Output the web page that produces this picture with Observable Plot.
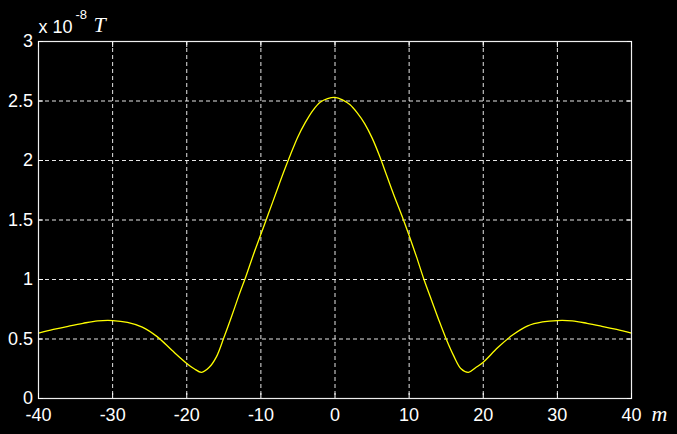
<!DOCTYPE html>
<html><head><meta charset="utf-8">
<script src="https://cdn.jsdelivr.net/npm/d3@7"></script>
<script src="https://cdn.jsdelivr.net/npm/@observablehq/plot@0.6"></script>
<style>html,body{margin:0;padding:0;background:#000;}</style>
</head><body><div id="chart"></div>
<script>
const positions = [-40,-38,-36,-34,-32,-30,-28,-26,-24,-22,-20,-19,-18,-17,-16,-15,-14,-13,-12,-11,-10,-9,-8,-7,-6,-5,-4,-3,-2,-1,0,1,2,3,4,5,6,7,8,9,10,11,12,13,14,15,16,17,18,19,20,22,24,26,28,30,32,34,36,38,40];
const field = [0.55,0.58,0.607,0.632,0.652,0.655,0.64,0.60,0.52,0.405,0.295,0.25,0.22,0.26,0.35,0.51,0.68,0.86,1.03,1.21,1.38,1.55,1.72,1.89,2.05,2.20,2.32,2.42,2.49,2.52,2.53,2.51,2.47,2.40,2.31,2.19,2.04,1.87,1.70,1.54,1.37,1.19,1.00,0.83,0.66,0.50,0.36,0.25,0.22,0.26,0.305,0.43,0.535,0.61,0.643,0.655,0.652,0.632,0.607,0.58,0.55];
const xTicks = [-40,-30,-20,-10,0,10,20,30,40];
const yTicks = [0,0.5,1,1.5,2,2.5,3];
const yUnitBase = "x 10";
const yUnitExp = "-8";
const yUnit = "T";
const xUnit = "m";

const data = positions.map((x, i) => ({x, y: field[i]}));
const fnt = "Arial, 'Liberation Sans', sans-serif";
const serif = "'Times New Roman', 'Liberation Serif', serif";

const chart = Plot.plot({
  width: 677,
  height: 434,
  marginLeft: 38,
  marginRight: 46,
  marginTop: 41,
  marginBottom: 36,
  style: {background: "#000", color: "#fff", fontFamily: fnt, fontSize: "18px"},
  x: {domain: [-40, 40], label: null},
  y: {domain: [0, 3], label: null},
  marks: [
    Plot.gridX(xTicks, {stroke: "#fff", strokeOpacity: 0.9, strokeDasharray: "4,3"}),
    Plot.gridY(yTicks, {stroke: "#fff", strokeOpacity: 0.9, strokeDasharray: "4,3"}),
    Plot.line(data, {x: "x", y: "y", stroke: "#ffff00", strokeWidth: 1.3, curve: "catmull-rom"}),
    Plot.frame({stroke: "#eee", strokeWidth: 1.2}),
    Plot.axisX({ticks: xTicks, tickSize: -5, tickPadding: 15, tickFormat: d => String(d), fontSize: 18, label: null}),
    Plot.axisX({anchor: "top", ticks: xTicks, tickSize: -5, tickFormat: () => "", label: null}),
    Plot.axisY({ticks: yTicks, tickSize: -5, tickPadding: 10.5, tickFormat: d => String(d), fontSize: 18, label: null}),
    Plot.axisY({anchor: "right", ticks: yTicks, tickSize: -5, tickFormat: () => "", label: null}),
    Plot.text([yUnitBase], {frameAnchor: "top-left", dx: 0, dy: -9, textAnchor: "start", lineAnchor: "bottom", fill: "#fff", fontSize: 18}),
    Plot.text([yUnitExp], {frameAnchor: "top-left", dx: 37, dy: -22.5, textAnchor: "start", lineAnchor: "bottom", fill: "#fff", fontSize: 13}),
    Plot.text([yUnit], {frameAnchor: "top-left", dx: 55, dy: -10, textAnchor: "start", lineAnchor: "bottom", fill: "#fff", fontSize: 22, fontStyle: "italic", fontFamily: serif}),
    Plot.text([xUnit], {frameAnchor: "bottom-right", dx: 20, dy: 22, textAnchor: "start", lineAnchor: "bottom", fill: "#fff", fontSize: 22, fontStyle: "italic", fontFamily: serif})
  ]
});
document.getElementById("chart").appendChild(chart);
</script>
</body></html>
